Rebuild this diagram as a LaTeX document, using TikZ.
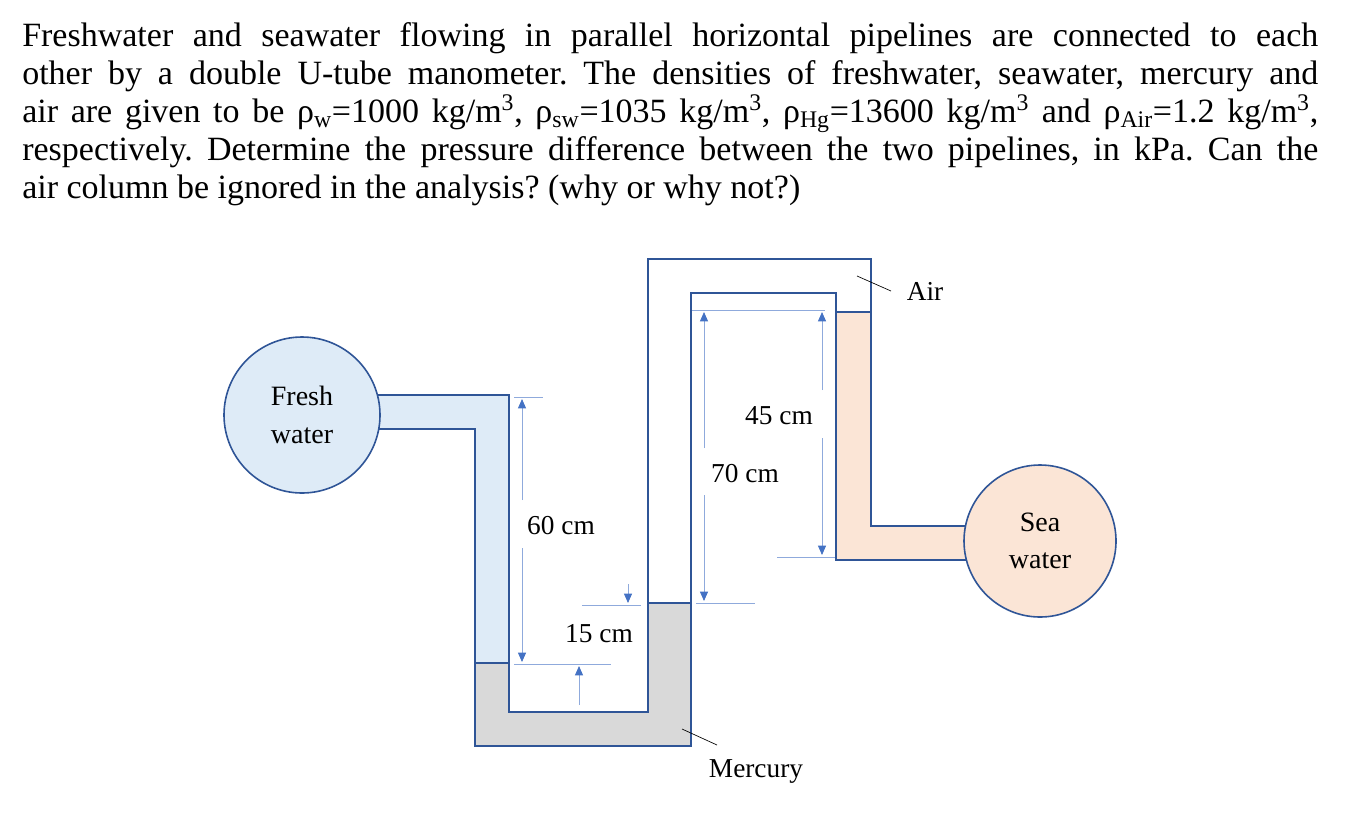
\documentclass[tikz,border=0pt]{standalone}
\usepackage{fontspec}
\setmainfont{Liberation Serif}
\usetikzlibrary{arrows.meta}
\definecolor{pipe}{HTML}{2F5597}
\definecolor{fresh}{HTML}{DEEBF7}
\definecolor{sea}{HTML}{FBE5D6}
\definecolor{hg}{HTML}{D9D9D9}
\definecolor{dim}{HTML}{8FAADC}
\definecolor{dimtip}{HTML}{4472C4}
\begin{document}
\frenchspacing
\begin{tikzpicture}[x=0.75pt,y=-0.75pt,
  wall/.style={draw=pipe,line width=1.2pt},
  dimline/.style={draw=dim,line width=0.6pt},
  dimarrow/.style={draw=dim,line width=0.6pt,-{Triangle[length=7pt,width=6pt,fill=dimtip,color=dimtip]}},
  lbl/.style={font=\fontsize{20.5pt}{22pt}\selectfont,inner sep=1pt},
  leader/.style={draw=black,line width=0.5pt}]
\useasboundingbox (0,0) rectangle (1358,814);
% text
\node[anchor=north west,inner sep=0pt,align=left,font=\fontsize{25.5pt}{28.5pt}\selectfont] (txt) at (22,22) {%
\makebox[972pt][s]{Freshwater and seawater flowing in parallel horizontal pipelines are connected to each}\\
\makebox[972pt][s]{other by a double U-tube manometer. The densities of freshwater, seawater, mercury and}\\
\makebox[972pt][s]{air are given to be ρ\textsubscript{w}=1000 kg/m\textsuperscript{3}, ρ\textsubscript{sw}=1035 kg/m\textsuperscript{3}, ρ\textsubscript{Hg}=13600 kg/m\textsuperscript{3} and ρ\textsubscript{Air}=1.2 kg/m\textsuperscript{3},}\\
\makebox[972pt][s]{respectively. Determine the pressure difference between the two pipelines, in kPa. Can the}\\
air column be ignored in the analysis? (why or why not?)};
% fills
\fill[fresh] (360,395) rectangle (509,429);
\fill[fresh] (475,395) rectangle (509,663);
\fill[hg] (475,663) -- (509,663) -- (509,712) -- (648,712) -- (648,603) -- (691,603) -- (691,746) -- (475,746) -- cycle;
\fill[sea] (836,312) -- (871,312) -- (871,526) -- (980,526) -- (980,560) -- (836,560) -- cycle;
% walls
\draw[wall] (360,395) -- (509,395) -- (509,712) -- (648,712) -- (648,259) -- (871,259) -- (871,526) -- (980,526);
\draw[wall] (980,560) -- (836,560) -- (836,293) -- (691,293) -- (691,746) -- (475,746) -- (475,429) -- (360,429);
\draw[wall] (475,663) -- (509,663);
\draw[wall] (648,603) -- (691,603);
\draw[wall] (836,312) -- (871,312);
% reservoirs
\node[circle,draw=pipe,line width=1.2pt,fill=fresh,minimum size=117pt,inner sep=0pt,align=center,font=\fontsize{21pt}{28pt}\selectfont] (fw) at (302,415) {Fresh\\water};
\node[circle,draw=pipe,line width=1.2pt,fill=sea,minimum size=114pt,inner sep=0pt,align=center,font=\fontsize{21pt}{28pt}\selectfont] (sw) at (1040,541) {Sea\\water};
% 60 cm
\coordinate (a1) at (514,397); \coordinate (a2) at (543,397);
\draw[dimline] (a1) -- (a2);
\coordinate (b1) at (514,664); \coordinate (b2) at (611,664);
\draw[dimline] (b1) -- (b2);
\node[lbl] (l60) at (561,526) {60 cm};
\coordinate (t60) at (522,399); \coordinate (u60) at (522,662);
\draw[dimarrow] (522,500) -- (t60);
\draw[dimarrow] (522,548) -- (u60);
% 15 cm
\coordinate (c1) at (582,605); \coordinate (c2) at (641,605);
\draw[dimline] (c1) -- (c2);
\node[lbl] (l15) at (599,634) {15 cm};
\coordinate (t15) at (628,603); \coordinate (u15) at (579,666);
\draw[dimarrow] (628,584) -- (t15);
\draw[dimarrow] (579,705) -- (u15);
% 70 cm
\coordinate (d1) at (692,310); \coordinate (d2) at (825,310);
\draw[dimline] (d1) -- (d2);
\coordinate (e1) at (696,603); \coordinate (e2) at (755,603);
\draw[dimline] (e1) -- (e2);
\node[lbl] (l70) at (745,474) {70 cm};
\coordinate (t70) at (704,312); \coordinate (u70) at (704,601);
\draw[dimarrow] (704,448) -- (t70);
\draw[dimarrow] (704,495) -- (u70);
% 45 cm
\coordinate (f1) at (777,557); \coordinate (f2) at (835,557);
\draw[dimline] (f1) -- (f2);
\node[lbl] (l45) at (779,416) {45 cm};
\coordinate (t45) at (822,312); \coordinate (u45) at (822,555);
\draw[dimarrow] (822,390) -- (t45);
\draw[dimarrow] (822,438) -- (u45);
% leaders
\node[lbl] (air) at (925,291) {Air};
\coordinate (airp) at (857,276);
\draw[leader] (airp) -- (891,291);
\node[lbl] (hgl) at (756,771) {Mercury};
\coordinate (hgp) at (682,729);
\draw[leader] (hgp) -- (717,745);
\end{tikzpicture}
\end{document}
